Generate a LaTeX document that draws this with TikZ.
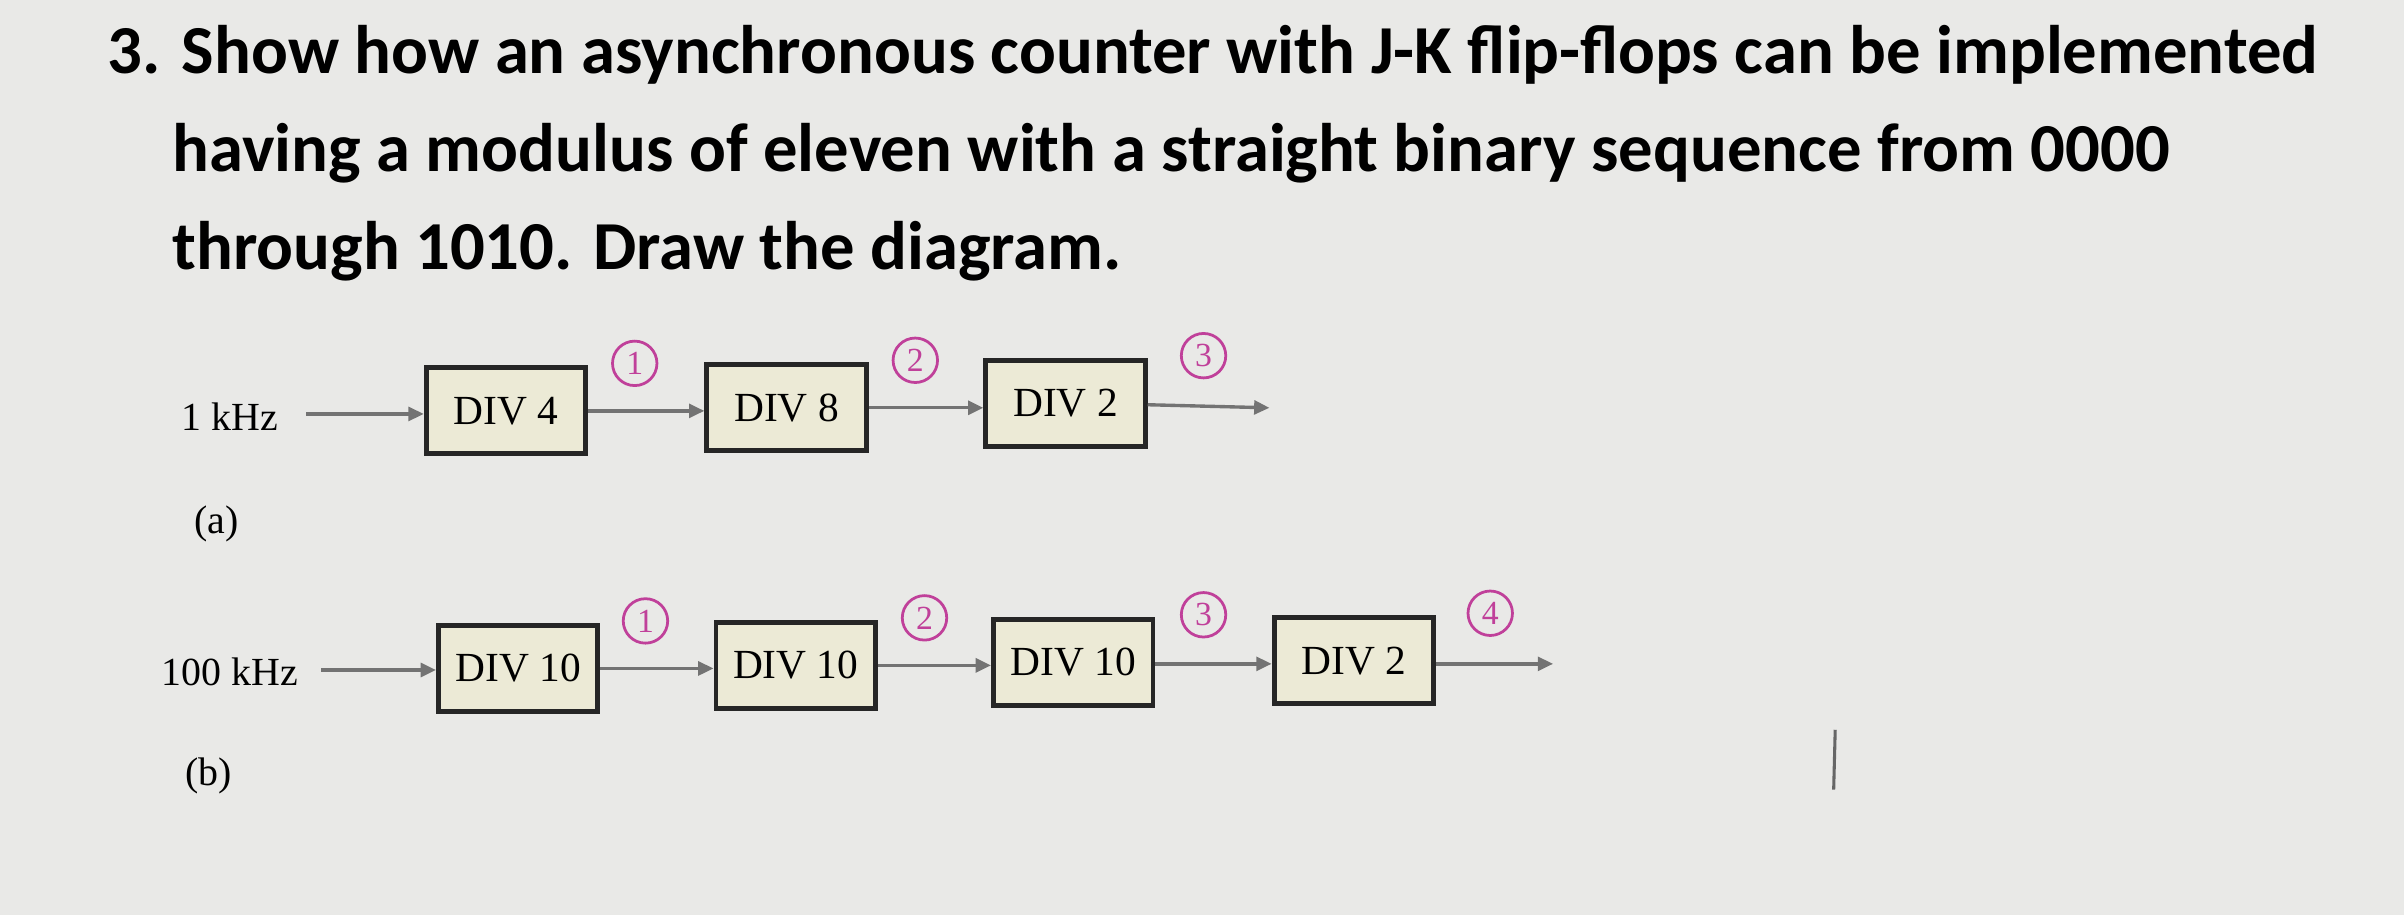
\documentclass[tikz,border=0pt]{standalone}
\usepackage{fontspec}
\setmainfont{Liberation Serif}
\newfontfamily\titlefont{Carlito}
\usetikzlibrary{arrows.meta}
\definecolor{bg}{HTML}{E9E9E7}
\definecolor{boxfill}{HTML}{ECEAD6}
\definecolor{mag}{HTML}{C0409A}
\begin{document}
\begin{tikzpicture}[x=0.5pt,y=-0.5pt,
  divbox/.style={draw=black!85,line width=1.6pt,fill=boxfill,minimum width=52pt,minimum height=28pt,inner sep=0pt,font=\fontsize{13.5}{15}\selectfont},
  sig/.style={draw=black!55,line width=1.1pt,-{Triangle[length=5pt,width=4.5pt]}},
  num/.style={circle,draw=mag,line width=0.9pt,text=mag,minimum size=14.5pt,inner sep=0pt,font=\fontsize{11}{12}\selectfont},
  lab/.style={font=\fontsize{13}{14}\selectfont,inner sep=0pt},
  ttl/.style={anchor=west,inner sep=0pt,font=\titlefont\bfseries\fontsize{22.4}{25}\selectfont}]
\fill[bg] (0,0) rectangle (1568,597);
\useasboundingbox (0,0) rectangle (1568,597);
\node[ttl] (t1) at (70,36) {3. Show how an asynchronous counter with J-K flip-flops can be implemented};
\node[ttl] (t2) at (112,100) {having a modulus of eleven with a straight binary sequence from 0000};
\node[ttl] (t3) at (112,164) {through 1010. Draw the diagram.};
% row a
\node[lab,anchor=west] (ina) at (118,272) {1 kHz};
\node[divbox] (a1) at (330,268) {DIV 4};
\node[divbox] (a2) at (513,266) {DIV 8};
\node[divbox] (a3) at (695,263) {DIV 2};
\coordinate (aout) at (828,266);
\draw[sig] (ina.east)++(18,-2) -- (a1.west|-0,270);
\draw[sig] (a1.east|-0,268) -- (a2.west|-0,268);
\draw[sig] (a2.east|-0,266) -- (a3.west|-0,266);
\draw[sig] (a3.east|-0,264) -- (aout);
\node[num] (ca1) at (414,237) {1};
\node[num] (ca2) at (597,235) {2};
\node[num] (ca3) at (785,232) {3};
\node[lab] (la) at (141,342) {(a)};
% row b
\node[lab,anchor=west] (inb) at (105,438) {100 kHz};
\node[divbox] (b1) at (338,436) {DIV 10};
\node[divbox] (b2) at (519,434) {DIV 10};
\node[divbox] (b3) at (700,432) {DIV 10};
\node[divbox] (b4) at (883,431) {DIV 2};
\coordinate (bout) at (1013,433);
\draw[sig] (inb.east)++(15,-1) -- (b1.west|-0,437);
\draw[sig] (b1.east|-0,436) -- (b2.west|-0,436);
\draw[sig] (b2.east|-0,434) -- (b3.west|-0,434);
\draw[sig] (b3.east|-0,433) -- (b4.west|-0,433);
\draw[sig] (b4.east|-0,433) -- (bout);
\node[num] (cb1) at (421,405) {1};
\node[num] (cb2) at (603,403) {2};
\node[num] (cb3) at (785,401) {3};
\node[num] (cb4) at (972,400) {4};
\node[lab] (lb) at (136,506) {(b)};
\draw[black!60,line width=1pt] (1197,476) -- (1196,515);
\end{tikzpicture}
\end{document}
